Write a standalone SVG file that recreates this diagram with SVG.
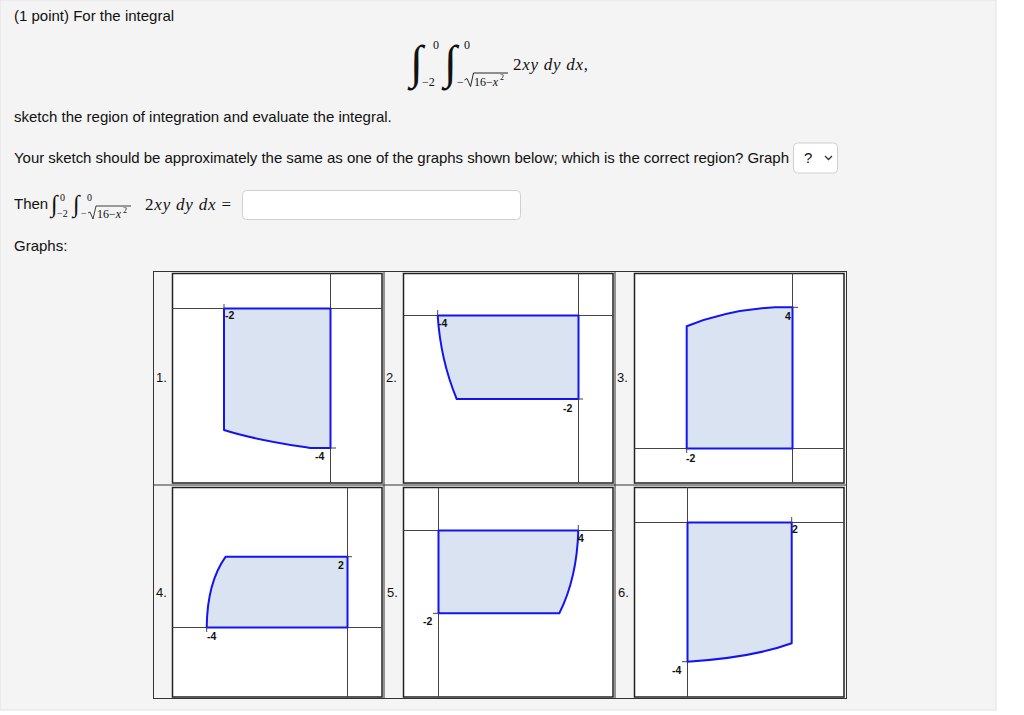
<svg xmlns="http://www.w3.org/2000/svg" width="1024" height="715" viewBox="0 0 1024 715">
<style>
.t{font-family:"Liberation Sans",Arial,sans-serif;font-size:15px;fill:#111}
.m{font-family:"Liberation Serif","Times New Roman",serif;fill:#111}
.i{font-style:italic}
.lab{font-family:"Liberation Sans",Arial,sans-serif;font-size:13px;fill:#111}
.tk{font-family:"Liberation Sans",Arial,sans-serif;font-size:10.5px;font-weight:bold;fill:#111}
.box{fill:#fff;stroke:#222;stroke-width:1.5}
.ax{stroke:#444;stroke-width:1;fill:none}
.reg{fill:#d9e3f2;stroke:#1414f0;stroke-width:2;stroke-linejoin:round}
.tick{stroke:#444;stroke-width:1}
</style>
<rect x="0" y="0" width="1024" height="715" fill="#fff"/>
<rect x="0" y="0" width="996" height="710" fill="#f4f4f4" stroke="#e2e2e2" stroke-width="1"/>

<g id="header">
<text class="t" x="14" y="21">(1 point) For the integral</text>
<text class="m" x="410" y="78" font-size="47">∫</text>
<text class="m" x="433" y="49" font-size="12">0</text>
<text class="m" x="422" y="86" font-size="12">−2</text>
<text class="m" x="444" y="78" font-size="47">∫</text>
<text class="m" x="464" y="49" font-size="12">0</text>
<text class="m" x="457" y="86" font-size="12">−</text>
<path d="M464.5,80 L467,78.5 L470.5,86.5 L473.5,73 L508,73" fill="none" stroke="#111" stroke-width="0.9"/>
<text class="m" x="474" y="86" font-size="12">16−<tspan class="i">x</tspan></text>
<text class="m" x="500" y="80" font-size="8">2</text>
<text class="m" x="513" y="70" font-size="17" textLength="75" lengthAdjust="spacing">2<tspan class="i">xy dy dx</tspan>,</text>
<text class="t" x="14" y="122">sketch the region of integration and evaluate the integral.</text>
<text class="t" x="14" y="163" textLength="775" lengthAdjust="spacing">Your sketch should be approximately the same as one of the graphs shown below; which is the correct region? Graph</text>
</g>

<g id="select">
<rect x="793.5" y="143" width="44" height="30" rx="4" fill="#fff" stroke="#d0d0d0"/>
<text class="t" x="804" y="163">?</text>
<path d="M825,156 L828.5,159.5 L832,156" fill="none" stroke="#333" stroke-width="1.3"/>
</g>

<g id="then">
<text class="t" x="14" y="209" font-size="14">Then</text>
<text class="m" x="51" y="212" font-size="24">∫</text>
<text class="m" x="60" y="201" font-size="10">0</text>
<text class="m" x="57" y="217" font-size="10">−2</text>
<text class="m" x="73" y="212" font-size="24">∫</text>
<text class="m" x="87" y="201" font-size="10">0</text>
<text class="m" x="81" y="217" font-size="10">−</text>
<path d="M88,213 L90,212 L93,219 L96,206 L131,206" fill="none" stroke="#111" stroke-width="0.8"/>
<text class="m" x="97" y="218" font-size="12">16−<tspan class="i">x</tspan></text>
<text class="m" x="123" y="213" font-size="8">2</text>
<text class="m" x="145" y="210" font-size="17" textLength="86" lengthAdjust="spacing">2<tspan class="i">xy dy dx</tspan> =</text>
<rect x="242.5" y="190.5" width="278" height="29" rx="4" fill="#fff" stroke="#d0d0d0"/>
<text class="t" x="14" y="251">Graphs:</text>
</g>

<g id="table">
<rect x="153.5" y="271.5" width="693" height="427" fill="#f4f4f4" stroke="#333" stroke-width="1"/>
<line x1="153.5" y1="485" x2="846.5" y2="485" stroke="#333" stroke-width="1"/>
<line x1="384" y1="271.5" x2="384" y2="698.5" stroke="#333" stroke-width="1"/>
<line x1="615" y1="271.5" x2="615" y2="698.5" stroke="#333" stroke-width="1"/>
<text class="lab" x="156" y="382">1.</text>
<text class="lab" x="386" y="382">2.</text>
<text class="lab" x="617" y="382">3.</text>
<text class="lab" x="156" y="597">4.</text>
<text class="lab" x="387" y="597">5.</text>
<text class="lab" x="618" y="597">6.</text>
</g>

<g id="graph1">
<rect class="box" x="172.5" y="273.5" width="209.5" height="209.5"/>
<line class="ax" x1="172.5" y1="308.5" x2="382" y2="308.5"/>
<line class="ax" x1="330.5" y1="273.5" x2="330.5" y2="483"/>
<path class="reg" d="M224,308.5 L330.5,308.5 L330.5,448 L310,448 C285,444 255,440 224,430 Z"/>
<line class="tick" x1="224" y1="304" x2="224" y2="309"/>
<line class="tick" x1="330" y1="448" x2="336" y2="448"/>
<text class="tk" x="225" y="319">-2</text>
<text class="tk" x="315" y="460">-4</text>
</g>

<g id="graph2">
<rect class="box" x="403.5" y="273.5" width="209.5" height="209.5"/>
<line class="ax" x1="403.5" y1="315.5" x2="613" y2="315.5"/>
<line class="ax" x1="578.5" y1="273.5" x2="578.5" y2="483"/>
<path class="reg" d="M437.7,315.5 L578.5,315.5 L578.5,399 L456.7,399 C448,378 440,352 437.7,315.5 Z"/>
<line class="tick" x1="437.7" y1="310" x2="437.7" y2="316"/>
<line class="tick" x1="578" y1="399" x2="583" y2="399"/>
<text class="tk" x="438" y="327">-4</text>
<text class="tk" x="563" y="412">-2</text>
</g>

<g id="graph3">
<rect class="box" x="634.5" y="273.5" width="209.5" height="209.5"/>
<line class="ax" x1="634.5" y1="448.5" x2="844" y2="448.5"/>
<line class="ax" x1="792.5" y1="273.5" x2="792.5" y2="483"/>
<path class="reg" d="M686.7,448.5 L792.5,448.5 L792.5,307.3 L775,307.3 C745,309 712,316 686.7,326.3 Z"/>
<line class="tick" x1="792" y1="307.3" x2="798" y2="307.3"/>
<line class="tick" x1="686.7" y1="448" x2="686.7" y2="453"/>
<text class="tk" x="785" y="320">4</text>
<text class="tk" x="686" y="462">-2</text>
</g>

<g id="graph4">
<rect class="box" x="172.5" y="487.5" width="209.5" height="209.5"/>
<line class="ax" x1="172.5" y1="627.5" x2="382" y2="627.5"/>
<line class="ax" x1="347.5" y1="487.5" x2="347.5" y2="697"/>
<path class="reg" d="M206.7,627.5 L347.5,627.5 L347.5,556.7 L225.7,556.7 C214,573 207,598 206.7,627.5 Z"/>
<line class="tick" x1="347" y1="556.7" x2="352" y2="556.7"/>
<line class="tick" x1="206.7" y1="627" x2="206.7" y2="632"/>
<text class="tk" x="338" y="569">2</text>
<text class="tk" x="207" y="640">-4</text>
</g>

<g id="graph5">
<rect class="box" x="403.5" y="487.5" width="209.5" height="209.5"/>
<line class="ax" x1="403.5" y1="530.5" x2="613" y2="530.5"/>
<line class="ax" x1="438.5" y1="487.5" x2="438.5" y2="697"/>
<path class="reg" d="M438.5,530.5 L578.3,530.5 C577.5,560 571,590 559.3,613.3 L438.5,613.3 Z"/>
<line class="tick" x1="578.3" y1="525" x2="578.3" y2="531"/>
<line class="tick" x1="433" y1="613.3" x2="438.5" y2="613.3"/>
<text class="tk" x="578" y="542">4</text>
<text class="tk" x="423" y="625">-2</text>
</g>

<g id="graph6">
<rect class="box" x="634.5" y="487.5" width="209.5" height="209.5"/>
<line class="ax" x1="634.5" y1="522.5" x2="844" y2="522.5"/>
<line class="ax" x1="687.5" y1="487.5" x2="687.5" y2="697"/>
<path class="reg" d="M687.5,522.5 L791.7,522.5 L791.7,643.3 C765,653 730,659 687.5,661.7 Z"/>
<line class="tick" x1="791.7" y1="517" x2="791.7" y2="523"/>
<line class="tick" x1="682" y1="661.7" x2="687.5" y2="661.7"/>
<text class="tk" x="792" y="533">2</text>
<text class="tk" x="672" y="674">-4</text>
</g>
</svg>
